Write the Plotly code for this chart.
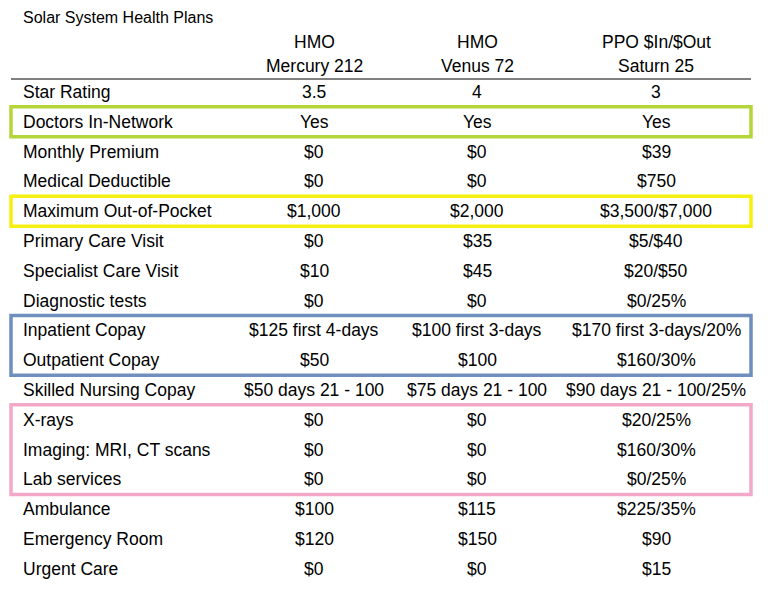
import plotly.graph_objects as go

title = "Solar System Health Plans"
plan_types = ["HMO", "HMO", "PPO $In/$Out"]
plan_names = ["Mercury 212", "Venus 72", "Saturn 25"]
row_labels = ["Star Rating", "Doctors In-Network", "Monthly Premium", "Medical Deductible",
              "Maximum Out-of-Pocket", "Primary Care Visit", "Specialist Care Visit",
              "Diagnostic tests", "Inpatient Copay", "Outpatient Copay", "Skilled Nursing Copay",
              "X-rays", "Imaging: MRI, CT scans", "Lab services", "Ambulance",
              "Emergency Room", "Urgent Care"]
mercury = ["3.5", "Yes", "$0", "$0", "$1,000", "$0", "$10", "$0", "$125 first 4-days", "$50",
           "$50 days 21 - 100", "$0", "$0", "$0", "$100", "$120", "$0"]
venus = ["4", "Yes", "$0", "$0", "$2,000", "$35", "$45", "$0", "$100 first 3-days", "$100",
         "$75 days 21 - 100", "$0", "$0", "$0", "$115", "$150", "$0"]
saturn = ["3", "Yes", "$39", "$750", "$3,500/$7,000", "$5/$40", "$20/$50", "$0/25%",
          "$170 first 3-days/20%", "$160/30%", "$90 days 21 - 100/25%", "$20/25%", "$160/30%",
          "$0/25%", "$225/35%", "$90", "$15"]
highlights = [(1, 1, "#b5d63a"), (4, 4, "#f5f010"), (8, 9, "#6f8fbf"), (11, 13, "#f2a9c9")]

FONT = dict(family="Liberation Sans, Arial", size=17.5, color="black")
TFONT = dict(family="Liberation Sans, Arial", size=16, color="black")
col_x = [315, 478, 657]
row0, dy = 93, 29.8

fig = go.Figure()
ann = [dict(x=22, y=18, text=title, xanchor="left", showarrow=False, font=TFONT)]
for cx, t, n in zip(col_x, plan_types, plan_names):
    ann.append(dict(x=cx, y=43, text=t, showarrow=False, font=FONT))
    ann.append(dict(x=cx, y=67, text=n, showarrow=False, font=FONT))
for i, lab in enumerate(row_labels):
    y = row0 + i * dy
    ann.append(dict(x=22, y=y, text=lab, xanchor="left", showarrow=False, font=FONT))
    for cx, vals in zip(col_x, [mercury, venus, saturn]):
        ann.append(dict(x=cx, y=y, text=vals[i], showarrow=False, font=FONT))

shapes = [dict(type="line", x0=12, x1=752, y0=80, y1=80, line=dict(color="black", width=1))]
for a, b, c in highlights:
    shapes.append(dict(type="rect", x0=12, x1=752, y0=row0 + a * dy - 15, y1=row0 + b * dy + 15,
                       line=dict(color=c, width=3.5)))

fig.update_layout(width=768, height=595, margin=dict(l=0, r=0, t=0, b=0),
                  paper_bgcolor="white", plot_bgcolor="white",
                  xaxis=dict(range=[9, 777], visible=False),
                  yaxis=dict(range=[604, 9], visible=False),
                  annotations=ann, shapes=shapes)
fig.write_html("out.html")
